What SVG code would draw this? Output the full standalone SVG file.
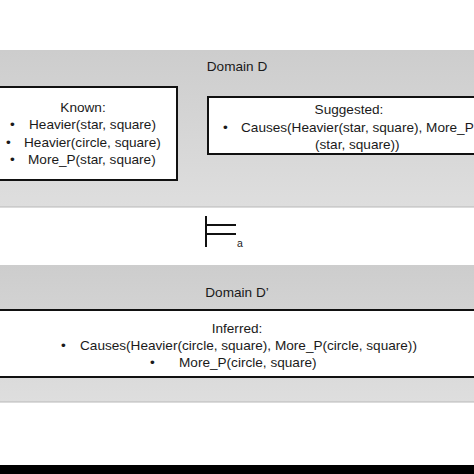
<svg xmlns="http://www.w3.org/2000/svg" width="474" height="474" viewBox="0 0 474 474">
<defs>
<linearGradient id="g" x1="0" y1="0" x2="0" y2="1">
<stop offset="0" stop-color="#cdcdcd"/>
<stop offset="1" stop-color="#dedede"/>
</linearGradient>
<style>
text{font-family:"Liberation Sans",Arial,sans-serif;font-size:13.6px;fill:#1a1a1a;}
.c{text-anchor:middle;}
.box{fill:#fff;stroke:#111;stroke-width:2;}
.ln{stroke:#111;stroke-width:2;fill:none;}
</style>
</defs>
<rect width="474" height="474" fill="#fff"/>
<g id="domainD">
<rect x="0" y="50" width="474" height="157" fill="url(#g)"/>
<line x1="0" y1="207" x2="474" y2="207" stroke="#b8b8b8" stroke-width="1"/>
<text class="c" x="237" y="71">Domain D</text>
</g>
<g id="known">
<rect class="box" x="-2" y="87" width="179" height="93"/>
<text class="c" x="83" y="112">Known:</text>
<text x="10" y="129">•</text><text x="29" y="129">Heavier(star, square)</text>
<text x="6" y="147">•</text><text x="24" y="147">Heavier(circle, square)</text>
<text x="10" y="164">•</text><text x="28" y="164">More_P(star, square)</text>
</g>
<g id="suggested">
<rect class="box" x="208" y="97" width="270" height="57"/>
<text class="c" x="349" y="114">Suggested:</text>
<text x="223" y="132">•</text><text x="241" y="132">Causes(Heavier(star, square), More_P</text>
<text x="315" y="149">(star, square))</text>
</g>
<g id="connectors">
<path class="ln" d="M206,216 V247 M206,225 H236 M206,234 H236"/>
<text x="237" y="247" style="font-size:10.5px">a</text>
</g>
<g id="domainDprime">
<rect x="0" y="265" width="474" height="137" fill="url(#g)"/>
<line x1="0" y1="402" x2="474" y2="402" stroke="#b8b8b8" stroke-width="1"/>
<text class="c" x="237" y="297">Domain D’</text>
<rect x="-2" y="310" width="478" height="67" class="box"/>
<text class="c" x="237" y="333">Inferred:</text>
<text x="61" y="350">•</text><text x="80" y="350">Causes(Heavier(circle, square), More_P(circle, square))</text>
<text x="150" y="367">•</text><text x="179" y="367">More_P(circle, square)</text>
</g>
<rect x="0" y="465" width="474" height="9" fill="#000"/>
</svg>
